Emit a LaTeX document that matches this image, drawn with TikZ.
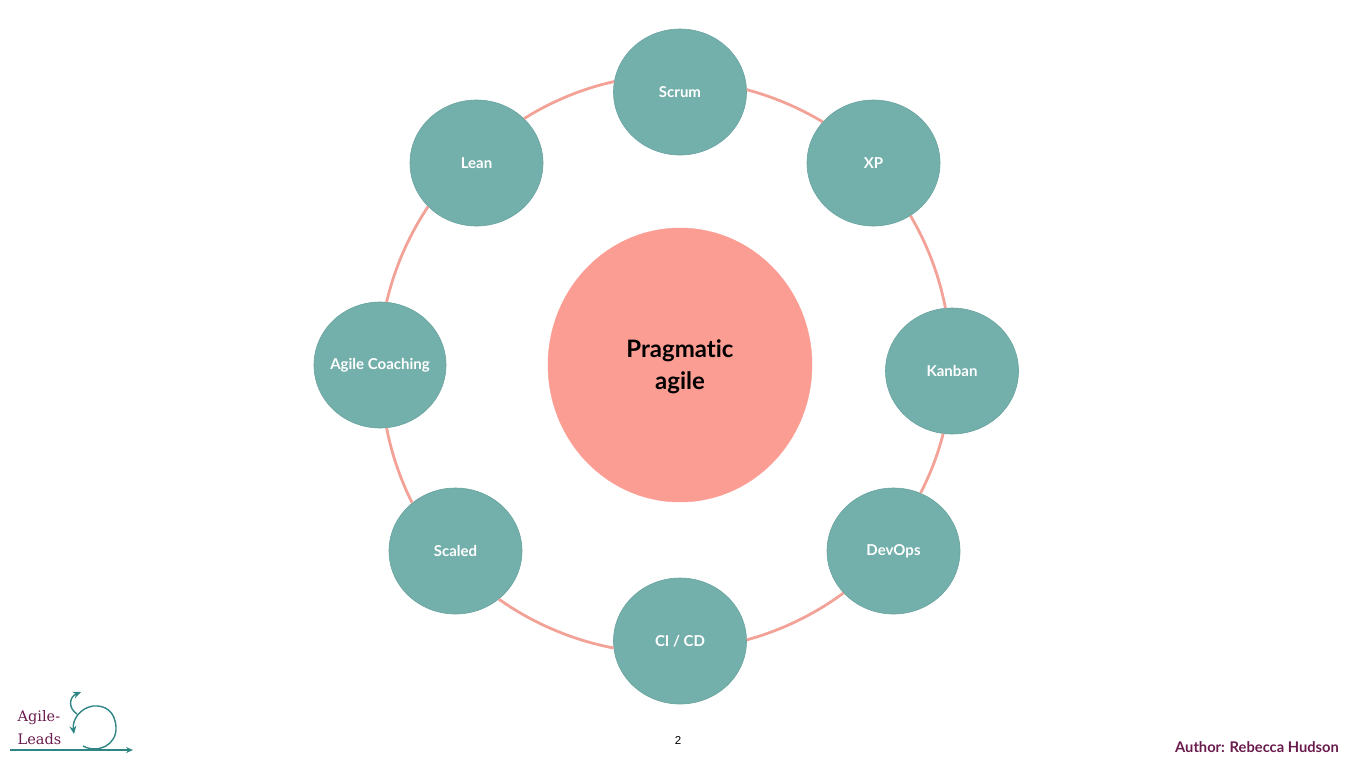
\documentclass[tikz,border=0pt]{standalone}
\usepackage{fontspec}
\setmainfont[Ligatures=CommonOff]{Lato}
\newfontfamily\logofont{DejaVu Serif}
\newfontfamily\pagefont{Liberation Sans}
\usetikzlibrary{arrows.meta, positioning, shapes.geometric}
\definecolor{teal1}{HTML}{73AFAB}
\definecolor{tealedge}{HTML}{68A39F}
\definecolor{salmon}{HTML}{FC9D94}
\definecolor{ringcol}{HTML}{F3A297}
\definecolor{plum}{HTML}{6A1B4D}
\definecolor{logoteal}{HTML}{2E8583}
\begin{document}
\begin{tikzpicture}[x=1pt, y=-1pt,
    method/.style={draw=tealedge, line width=0.6pt, fill=teal1, ellipse, minimum width=133pt, minimum height=126pt, inner sep=0pt, text=white, font=\fontsize{15}{17}\selectfont\bfseries},
    ring/.style={draw=ringcol, line width=2.8pt, looseness=0.85},
    logoline/.style={draw=logoteal, line width=1.4pt}]
    \useasboundingbox (0,0) rectangle (1358,764);
    \node[ellipse, fill=salmon, draw=salmon, minimum width=264pt, minimum height=274pt, inner sep=0pt, align=center, text height=53pt, font=\fontsize{24}{32}\selectfont\bfseries] (core) at (680,365) {Pragmatic\\agile};
    \node[method] (scrum) at (680,92) {Scrum};
    \node[method] (xp) at (873.5,163) {XP};
    \node[method] (kanban) at (952,371) {Kanban};
    \node[method] (devops) at (893.5,551) {DevOps};
    \node[method] (cicd) at (680,641) {CI / CD};
    \node[method] (scaled) at (455.5,551) {Scaled};
    \node[method, minimum width=132pt, inner xsep=-16pt] (coaching) at (380,365) {Agile Coaching};
    \node[method] (lean) at (476.5,163) {Lean};
    \foreach \from/\to/\bend in {scrum.2/xp.141/8, xp.-55/kanban.96/10, kanban.-98/devops.65/6.5, devops.220/cicd.1/10.7, cicd.186/scaled.-48/12.4, scaled.132/coaching.-84/7.8, coaching.84/lean.222/10.4, lean.43/scrum.171/9.9}
        \draw[ring] (\from) to[bend left=\bend] (\to);
    % logo
    \node[text=plum, anchor=west, inner sep=0pt, font=\logofont\fontsize{14.5}{14}\selectfont] (agile) at (17.5,718) {Agile-};
    \node[text=plum, anchor=west, inner sep=0pt, font=\logofont\fontsize{14.5}{14}\selectfont] (leads) at (17.5,739) {Leads};
    \coordinate (basestart) at (10,750);
    \coordinate (baseend) at (133,750);
    \draw[logoline, -{Stealth[length=7pt,width=6pt]}] (basestart) -- (baseend);
    \draw[logoline, -{Stealth[length=8pt,width=7pt]}] (83,746) .. controls (98,754) and (117,745) .. (116,727) .. controls (115,711) and (105,705) .. (93,706) .. controls (80,708) and (72,720) .. (74,734);
    \draw[logoline, -{Stealth[length=8pt,width=7pt]}] (77,714) .. controls (68,708) and (69,697) .. (81,692);
    \node[font=\pagefont\fontsize{11.5}{13}\selectfont, inner sep=0pt] (pagenum) at (678,740) {2};
    \node[text=plum, anchor=east, inner sep=0pt, font=\fontsize{14.7}{16}\selectfont\bfseries] (author) at (1339,747.5) {Author: Rebecca Hudson};
\end{tikzpicture}
\end{document}
